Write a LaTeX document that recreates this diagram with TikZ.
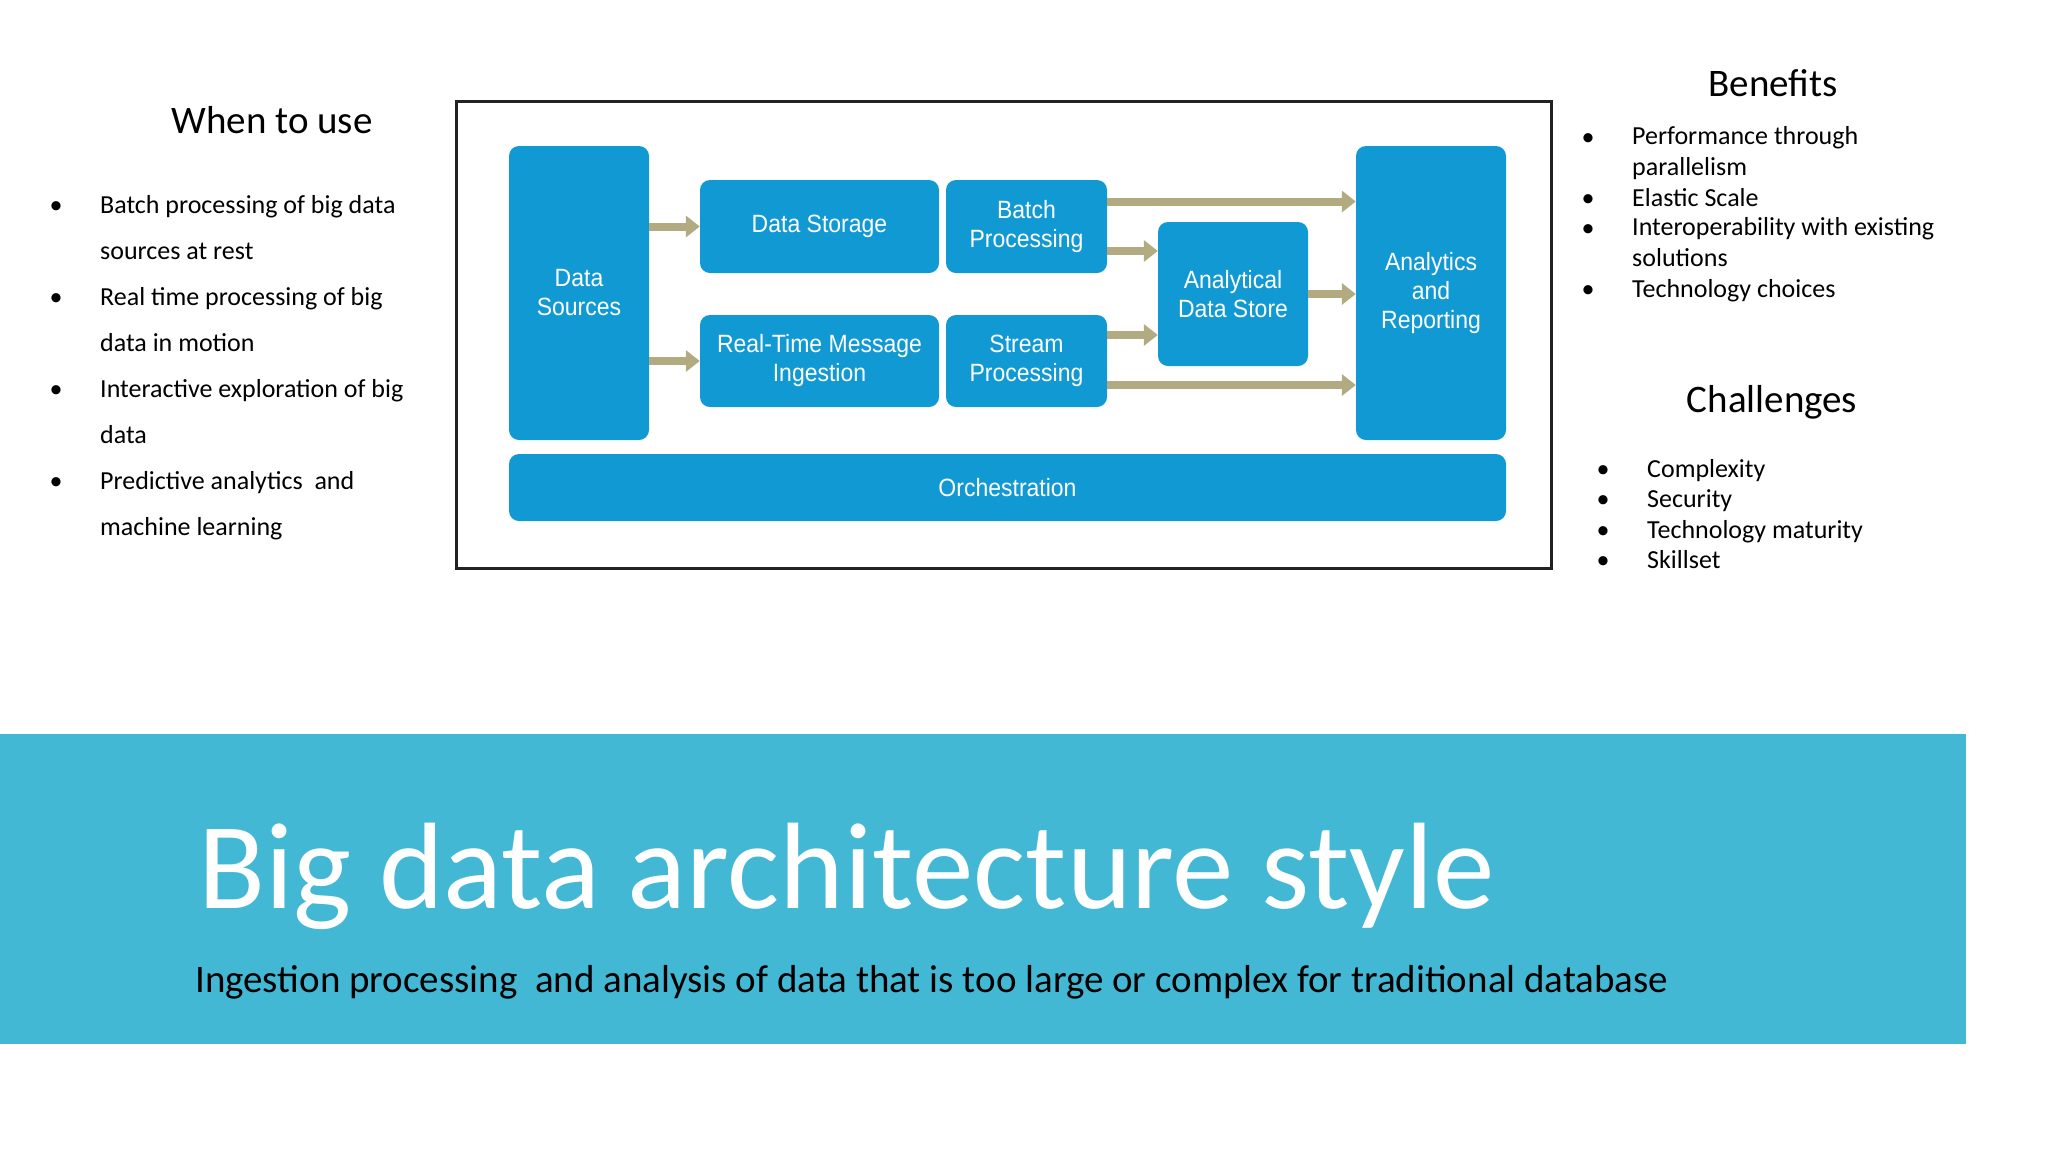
\documentclass[tikz,border=0pt]{standalone}
\usepackage{fontspec}
\setmainfont{Carlito}
\newfontfamily\diagfont[FakeStretch=0.92]{Liberation Sans}
\usetikzlibrary{arrows.meta}

\definecolor{boxblue}{RGB}{17,153,211}
\definecolor{arrowtan}{RGB}{178,170,128}
\definecolor{bannerblue}{RGB}{66,184,213}
\definecolor{framegray}{RGB}{34,34,34}

\begin{document}
\begin{tikzpicture}[x=1pt, y=-1pt,
    box/.style={fill=boxblue, rounded corners=10pt, inner sep=0pt, align=center,
      text=white, font=\diagfont\fontsize{25}{29}\selectfont},
    flow/.style={draw=arrowtan, line width=8pt, -{Triangle[width=21pt,length=14pt]}},
    heading/.style={anchor=base, font=\fontsize{39}{39}\selectfont},
    item/.style={anchor=base west, align=left, inner sep=0pt},
    dot/.style={anchor=base, font=\fontsize{26}{26}\selectfont}]

  \useasboundingbox (0,0) rectangle (2048,1152);
  \fill[white] (0,0) rectangle (2048,1152);

  % Frame around the architecture diagram
  \draw[framegray, line width=3pt] (456,101) rectangle (1551,568);

  % Components
  \node[box, minimum width=140pt, minimum height=294pt] (ds) at (579,293) {Data\\Sources};
  \node[box, minimum width=239pt, minimum height=93pt] (storage) at (819.5,226.5) {Data Storage};
  \node[box, minimum width=161pt, minimum height=93pt] (batch) at (1026.5,226.5) {Batch\\Processing};
  \node[box, minimum width=239pt, minimum height=92pt] (rt) at (819.5,361) {Real-Time Message\\Ingestion};
  \node[box, minimum width=161pt, minimum height=92pt] (stream) at (1026.5,361) {Stream\\Processing};
  \node[box, minimum width=150pt, minimum height=144pt] (ads) at (1233,294) {Analytical\\Data Store};
  \node[box, minimum width=150pt, minimum height=294pt] (ar) at (1431,293) {Analytics\\and\\Reporting};
  \node[box, minimum width=997pt, minimum height=67pt] (orch) at (1007.5,487.5) {Orchestration};

  % Flows between components
  \draw[flow] (ds.east |- storage.west) -- (storage.west);
  \draw[flow] (ds.east |- rt.west) -- (rt.west);
  \draw[flow] ([yshift=25pt]batch.east) coordinate (b1) -- (b1 -| ar.west);
  \draw[flow] ([yshift=-24.5pt]batch.east) coordinate (b2) -- (b2 -| ads.west);
  \draw[flow] ([yshift=26pt]stream.east) coordinate (s1) -- (s1 -| ads.west);
  \draw[flow] ([yshift=-24pt]stream.east) coordinate (s2) -- (s2 -| ar.west);
  \draw[flow] (ads.east) -- (ads.east -| ar.west);

  % When to use (base of a two-line node is its last line)
  \node[heading] (usehead) at (272,133) {When to use};
  \begin{scope}[font=\fontsize{26}{46}\selectfont]
    \node[item] (use1) at (100,259) {Batch processing of big data\\sources at rest};
    \node[item] (use2) at (100,351) {Real time processing of big\\data in motion};
    \node[item] (use3) at (100,443) {Interactive exploration of big\\data};
    \node[item] (use4) at (100,535) {Predictive analytics\ \ and\\machine learning};
  \end{scope}
  \foreach \y [count=\i] in {213,305,397,489}
    \node[dot] (usedot\i) at (56,\y) {\textbullet};

  % Benefits
  \node[heading] (benhead) at (1773,96) {Benefits};
  \begin{scope}[font=\fontsize{26}{30.3}\selectfont]
    \node[item] (ben1) at (1632,175) {Performance through\\parallelism};
    \node[item] (ben2) at (1632,206) {Elastic Scale};
    \node[item] (ben3) at (1632,266) {Interoperability with existing\\solutions};
    \node[item] (ben4) at (1632,297) {Technology choices};
  \end{scope}
  \foreach \y [count=\i] in {145,206,236,297}
    \node[dot] (bendot\i) at (1588,\y) {\textbullet};

  % Challenges
  \node[heading] (chalhead) at (1772,412) {Challenges};
  \begin{scope}[font=\fontsize{26}{30}\selectfont]
    \node[item] (chal1) at (1647,477) {Complexity};
    \node[item] (chal2) at (1647,507) {Security};
    \node[item] (chal3) at (1647,538) {Technology maturity};
    \node[item] (chal4) at (1647,568) {Skillset};
  \end{scope}
  \foreach \y [count=\i] in {477,507,538,568}
    \node[dot] (chaldot\i) at (1603,\y) {\textbullet};

  % Title banner
  \fill[bannerblue] (0,734) rectangle (1966,1044);
  \node[anchor=base west, inner sep=0pt, text=white, font=\fontsize{123}{123}\selectfont]
    (title) at (198,908) {Big data architecture style};
  \node[anchor=base west, inner sep=0pt, text=black, font=\fontsize{39}{39}\selectfont]
    (subtitle) at (195,992) {Ingestion processing\ \ and analysis of data that is too large or complex for traditional database};

\end{tikzpicture}
\end{document}
